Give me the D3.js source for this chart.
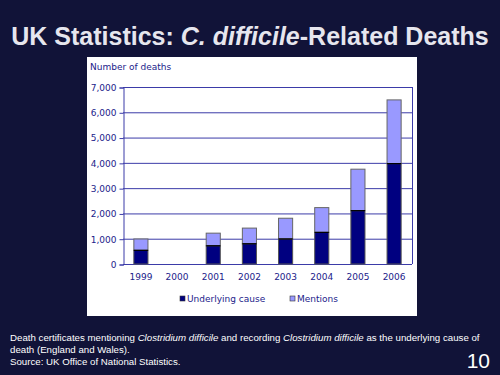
<!DOCTYPE html>
<html lang="en">
<head>
    <meta charset="UTF-8">
    <title>UK Statistics: C. difficile-Related Deaths</title>
    <script src="https://d3js.org/d3.v7.min.js"></script>
    <style>
        body {
            margin: 0;
            padding: 0;
            background: #111338;
        }
        svg {
            display: block;
        }
    </style>
</head>
<body>
    <svg id="slide" width="500" height="375"></svg>

    <script>
        // Data
        const years = ["1999", "2000", "2001", "2002", "2003", "2004", "2005", "2006"];
        const underlying = [540, null, 720, 800, 990, 1250, 2110, 3970];
        const mentions = [990, null, 1220, 1420, 1810, 2230, 3750, 6490];
        const yTicks = [0, 1000, 2000, 3000, 4000, 5000, 6000, 7000];

        const svg = d3.select("#slide");

        // Slide background
        svg.append("rect")
            .attr("width", 500)
            .attr("height", 375)
            .attr("fill", "#111338");

        // Title
        const title = svg.append("text")
            .attr("x", 250)
            .attr("y", 45)
            .attr("text-anchor", "middle")
            .attr("fill", "#e6e6ee")
            .attr("font-family", "Liberation Sans, Arial, sans-serif")
            .attr("font-weight", "bold")
            .attr("font-size", 25);
        title.append("tspan").text("UK Statistics: ");
        title.append("tspan").attr("font-style", "italic").text("C. difficile");
        title.append("tspan").text("-Related Deaths");

        // White chart panel
        svg.append("rect")
            .attr("x", 87)
            .attr("y", 57)
            .attr("width", 330)
            .attr("height", 259)
            .attr("fill", "#ffffff");

        const plot = { left: 123, right: 412, top: 87, bottom: 264 };
        const navy = "#22228a";
        const labelFont = "DejaVu Sans, Verdana, sans-serif";

        const x = d3.scaleBand()
            .domain(years)
            .range([plot.left, plot.right])
            .paddingInner(0.61)
            .paddingOuter(0.3);

        const y = d3.scaleLinear()
            .domain([0, 7000])
            .range([plot.bottom, plot.top]);

        // Gridlines
        svg.append("g")
            .selectAll("line")
            .data(yTicks)
            .join("line")
            .attr("x1", plot.left)
            .attr("x2", plot.right)
            .attr("y1", d => y(d) + 0.5)
            .attr("y2", d => y(d) + 0.5)
            .attr("stroke", "#3b3ba8")
            .attr("stroke-width", 1);

        // Right border of plot
        svg.append("line")
            .attr("x1", plot.right + 0.5)
            .attr("x2", plot.right + 0.5)
            .attr("y1", plot.top)
            .attr("y2", plot.bottom)
            .attr("stroke", "#3b3ba8");

        // Y axis
        const yAxis = svg.append("g")
            .attr("transform", `translate(${plot.left + 0.5},0.5)`)
            .call(d3.axisLeft(y).tickValues(yTicks).tickSize(4).tickFormat(d3.format(",")));
        yAxis.select(".domain").attr("stroke", "#3b3ba8");
        yAxis.selectAll(".tick line").attr("stroke", "#3b3ba8");
        yAxis.selectAll("text")
            .attr("fill", navy)
            .attr("font-family", labelFont)
            .attr("font-size", 9)
            .attr("x", -7);

        // X axis labels
        const xAxis = svg.append("g")
            .attr("transform", `translate(0,${plot.bottom})`)
            .call(d3.axisBottom(x).tickSize(0).tickPadding(10));
        xAxis.select(".domain").remove();
        xAxis.selectAll("text")
            .attr("fill", navy)
            .attr("font-family", labelFont)
            .attr("font-size", 9);

        // Bars
        const barData = years.map((yr, i) => ({ year: yr, u: underlying[i], m: mentions[i] }))
            .filter(d => d.u !== null);

        const bars = svg.append("g");

        bars.selectAll(".mentions")
            .data(barData)
            .join("rect")
            .attr("class", "mentions")
            .attr("x", d => x(d.year))
            .attr("y", d => y(d.m))
            .attr("width", x.bandwidth())
            .attr("height", d => y(d.u) - y(d.m))
            .attr("fill", "#9999ff")
            .attr("stroke", "#666666")
            .attr("stroke-width", 1);

        bars.selectAll(".underlying")
            .data(barData)
            .join("rect")
            .attr("class", "underlying")
            .attr("x", d => x(d.year))
            .attr("y", d => y(d.u))
            .attr("width", x.bandwidth())
            .attr("height", d => y(0) - y(d.u))
            .attr("fill", "#000080")
            .attr("stroke", "#555555")
            .attr("stroke-width", 1);

        bars.selectAll(".split")
            .data(barData)
            .join("line")
            .attr("class", "split")
            .attr("x1", d => x(d.year))
            .attr("x2", d => x(d.year) + x.bandwidth())
            .attr("y1", d => y(d.u))
            .attr("y2", d => y(d.u))
            .attr("stroke", "#000000")
            .attr("stroke-width", 1.2);

        // Axis title
        svg.append("text")
            .attr("x", 90)
            .attr("y", 70)
            .attr("fill", navy)
            .attr("font-family", labelFont)
            .attr("font-size", 9)
            .text("Number of deaths");

        // Legend
        const legendItems = [
            { label: "Underlying cause", color: "#000080", x: 180 },
            { label: "Mentions", color: "#9999ff", x: 290 }
        ];
        const legend = svg.append("g")
            .selectAll("g")
            .data(legendItems)
            .join("g")
            .attr("transform", d => `translate(${d.x},296)`);
        legend.append("rect")
            .attr("width", 5)
            .attr("height", 5)
            .attr("fill", d => d.color)
            .attr("stroke", "#333333")
            .attr("stroke-width", 0.6);
        legend.append("text")
            .attr("x", 7)
            .attr("y", 6)
            .attr("fill", navy)
            .attr("font-family", labelFont)
            .attr("font-size", 9)
            .text(d => d.label);

        // Footnote
        const foot = svg.append("g")
            .attr("fill", "#ffffff")
            .attr("font-family", "Liberation Sans, Arial, sans-serif")
            .attr("font-size", 9.7);
        const l1 = foot.append("text").attr("x", 10).attr("y", 341);
        l1.append("tspan").text("Death certificates mentioning ");
        l1.append("tspan").attr("font-style", "italic").text("Clostridium difficile");
        l1.append("tspan").text(" and recording ");
        l1.append("tspan").attr("font-style", "italic").text("Clostridium difficile");
        l1.append("tspan").text(" as the underlying cause of");
        foot.append("text").attr("x", 10).attr("y", 353).text("death (England and Wales).");
        foot.append("text").attr("x", 10).attr("y", 365).text("Source: UK Office of National Statistics.");

        // Slide number
        svg.append("text")
            .attr("x", 490)
            .attr("y", 368)
            .attr("text-anchor", "end")
            .attr("fill", "#ffffff")
            .attr("font-family", "Liberation Sans, Arial, sans-serif")
            .attr("font-size", 21)
            .text("10");
    </script>
</body>
</html>
